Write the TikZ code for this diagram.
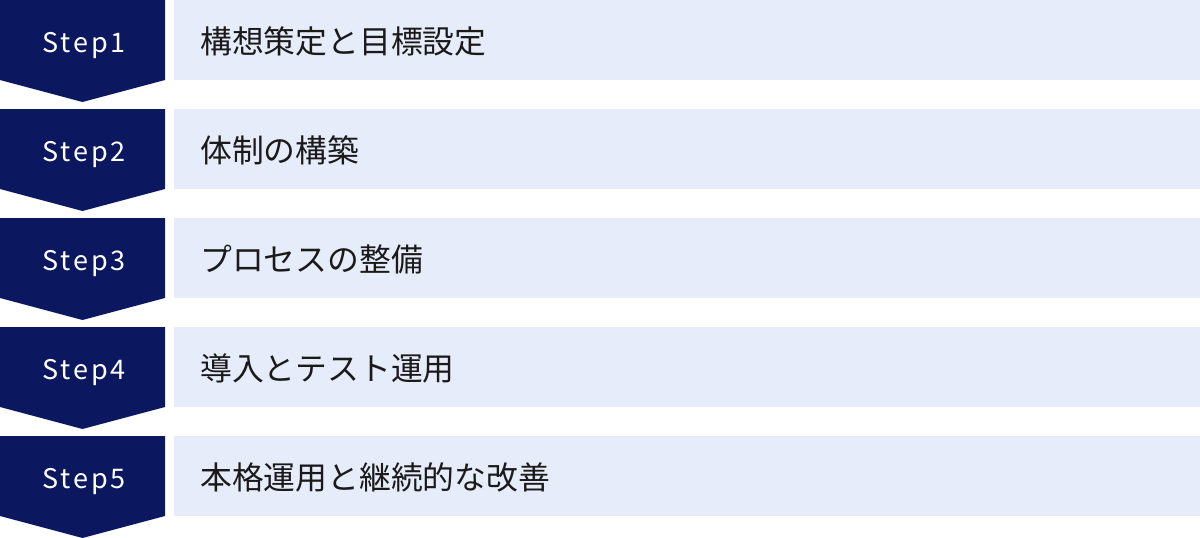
\documentclass[tikz,border=0pt]{standalone}
\usepackage{fontspec}
\setmainfont{Noto Sans}
\newfontfamily\jp{Noto Sans CJK JP}
\newfontfamily\jplat[LetterSpace=11]{Noto Sans CJK JP}
\definecolor{navy}{HTML}{0B1860}
\definecolor{lightbg}{HTML}{E6ECF9}
\definecolor{txt}{HTML}{1A1A1A}
\begin{document}
\begin{tikzpicture}[x=1pt,y=-1pt,
  stepbadge/.style={fill=navy,draw=none},
  steplabel/.style={text=white,font=\jplat\fontsize{27}{30}\selectfont,anchor=base,inner sep=0},
  bar/.style={fill=lightbg,draw=none},
  bartext/.style={text=txt,font=\jp\fontsize{31.8}{34}\selectfont,anchor=base west,inner sep=0}]
\useasboundingbox (0,0) rectangle (1200,538);
\foreach \i/\t [count=\n from 0] in {1/構想策定と目標設定,2/体制の構築,3/プロセスの整備,4/導入とテスト運用,5/本格運用と継続的な改善}{
  \pgfmathsetmacro{\y}{109*\n}
  \fill[stepbadge] (0,\y) -- (165,\y) -- (165,\y+80) -- (82.5,\y+102) -- (0,\y+80) -- cycle;
  \fill[bar] (174,\y) rectangle (1200,\y+80);
  \node[steplabel] (s\i) at (84,\y+52) {Step\i};
  \node[bartext] (t\i) at (200,\y+53) {\t};
}
\end{tikzpicture}
\end{document}
